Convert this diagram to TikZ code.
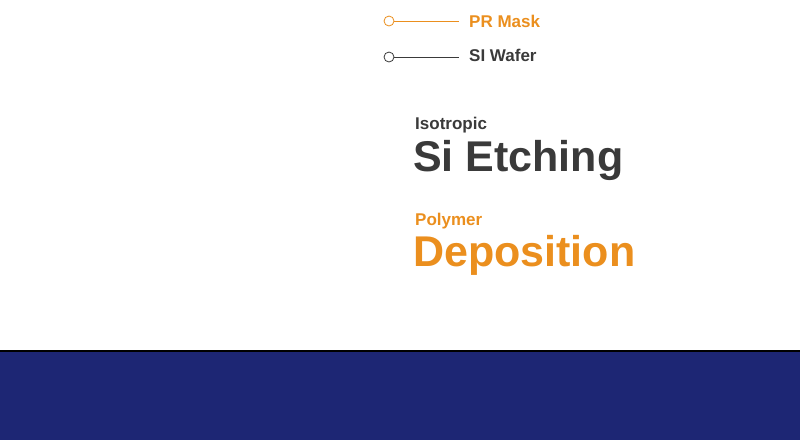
\documentclass[tikz,border=0pt]{standalone}
\usepackage{fontspec}
\setmainfont{Liberation Sans}
\definecolor{orangec}{HTML}{EB8F1E}
\definecolor{grayc}{HTML}{3A3A3A}
\definecolor{navyc}{HTML}{1D2674}
\begin{document}
\begin{tikzpicture}[x=1pt,y=-1pt,
  legtext/.style={anchor=west,inner sep=0pt,font=\fontsize{17}{20}\selectfont\bfseries},
  small/.style={anchor=base west,inner sep=0pt,font=\fontsize{17}{20}\selectfont\bfseries},
  big/.style={anchor=base west,inner sep=0pt,font=\fontsize{43}{50}\selectfont\bfseries},
  dot/.style={circle,draw,line width=0.8pt,minimum size=10pt,inner sep=0pt}]
\useasboundingbox (0,0) rectangle (800,440);
\fill[white] (0,0) rectangle (800,440);
\fill[navyc] (0,351) rectangle (800,440);
\draw[black,line width=1.2pt] (0,351) -- (800,351);
% legend
\node[dot,draw=orangec] (c1) at (389,21) {};
\coordinate (e1) at (459,21);
\draw[orangec,line width=0.8pt] (c1) -- (e1);
\node[legtext,text=orangec] (t1) at (469,21) {PR Mask};
\node[dot,draw=grayc] (c2) at (389,57) {};
\coordinate (e2) at (459,57);
\draw[grayc,line width=0.8pt] (c2) -- (e2);
\node[legtext,text=grayc] (t2) at (469,55) {SI Wafer};
% titles
\node[small,text=grayc] (iso) at (415,129) {Isotropic};
\node[big,text=grayc] (sie) at (413,171) {Si Etching};
\node[small,text=orangec] (pol) at (415,225) {Polymer};
\node[big,text=orangec] (dep) at (413,266) {Deposition};
\end{tikzpicture}
\end{document}
